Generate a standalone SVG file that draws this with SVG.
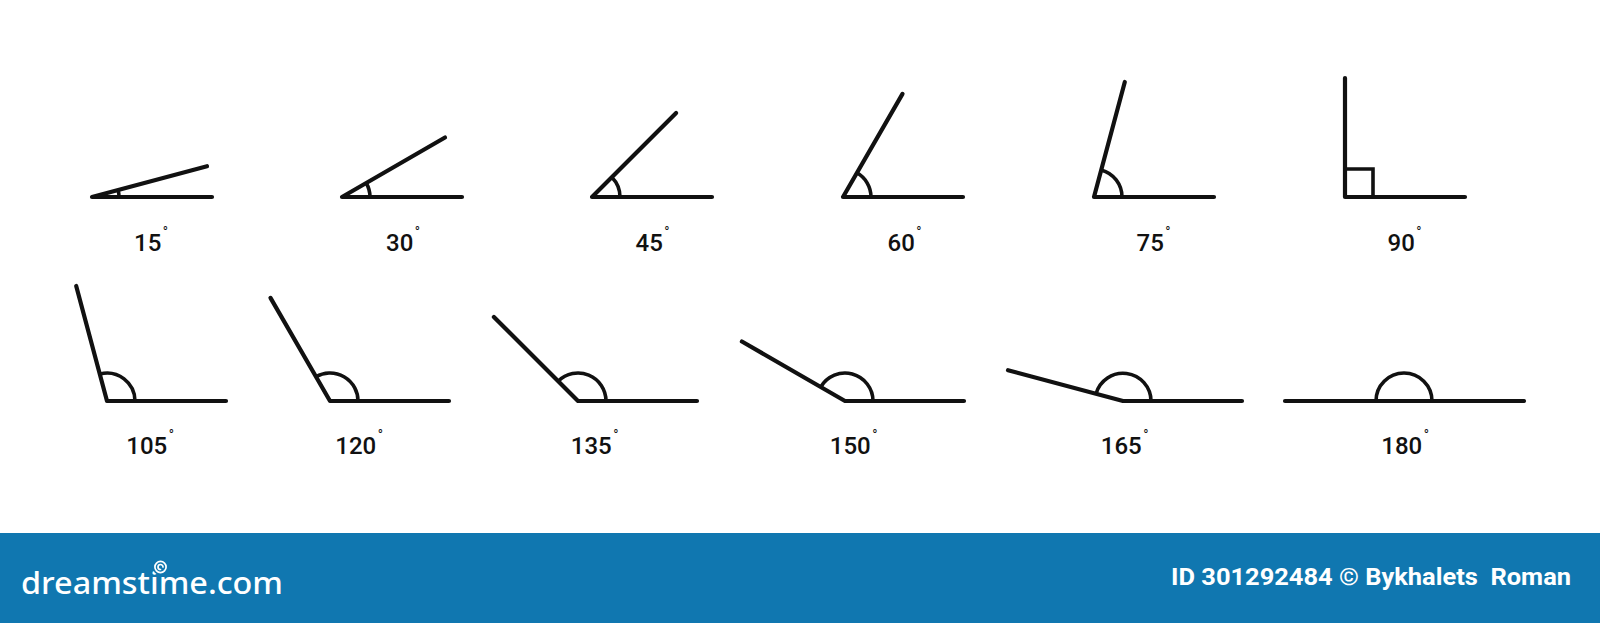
<svg xmlns="http://www.w3.org/2000/svg" width="1600" height="623" viewBox="0 0 1600 623">
<style>
.ln{fill:none;stroke:#111;stroke-width:4.2;stroke-linecap:round;stroke-linejoin:round}
.arc{fill:none;stroke:#111;stroke-width:3.6;stroke-linecap:butt}
.lbl{font-family:Roboto,"Liberation Sans",sans-serif;font-weight:500;font-size:24px;fill:#111}
.deg{font-size:14px;font-weight:400}
.ban{font-family:Roboto,"Liberation Sans",sans-serif;font-weight:700;font-size:24px;fill:#fff;white-space:pre}
.logo{font-family:"Noto Sans","Open Sans",sans-serif;font-weight:500;font-size:31px;fill:#fff}
</style>
<rect x="0" y="0" width="1600" height="623" fill="#fff"/>

<g id="a15">
<path class="ln" d="M212,197 H92 L207,166.2"/>
<path class="arc" d="M119,197 A27 27 0 0 0 118.1,190"/>
<text class="lbl" x="134" y="251">15<tspan class="deg" dx="1.5" dy="-14">°</tspan></text>
</g>
<g id="a30">
<path class="ln" d="M462,197 H342 L445,137.5"/>
<path class="arc" d="M370,197 A28 28 0 0 0 366.2,183"/>
<text class="lbl" x="386" y="251">30<tspan class="deg" dx="1.5" dy="-14">°</tspan></text>
</g>
<g id="a45">
<path class="ln" d="M712,197 H592 L676.1,112.9"/>
<path class="arc" d="M620,197 A28 28 0 0 0 611.8,177.2"/>
<text class="lbl" x="635.5" y="251">45<tspan class="deg" dx="1.5" dy="-14">°</tspan></text>
</g>
<g id="a60">
<path class="ln" d="M963,197 H843 L902.5,93.9"/>
<path class="arc" d="M871,197 A28 28 0 0 0 857,172.8"/>
<text class="lbl" x="887.5" y="251">60<tspan class="deg" dx="1.5" dy="-14">°</tspan></text>
</g>
<g id="a75">
<path class="ln" d="M1214,197 H1094 L1124.8,82"/>
<path class="arc" d="M1122,197 A28 28 0 0 0 1101.2,170"/>
<text class="lbl" x="1136.5" y="251">75<tspan class="deg" dx="1.5" dy="-14">°</tspan></text>
</g>
<g id="a90">
<path class="ln" d="M1465,197 H1345 V78"/>
<path class="arc" d="M1345,169 H1373 V197"/>
<text class="lbl" x="1387.5" y="251">90<tspan class="deg" dx="1.5" dy="-14">°</tspan></text>
</g>

<g id="a105">
<path class="ln" d="M226,401 H107 L76.2,286"/>
<path class="arc" d="M135,401 A28 28 0 0 0 99.8,374"/>
<text class="lbl" x="126.3" y="454">105<tspan class="deg" dx="1.5" dy="-14">°</tspan></text>
</g>
<g id="a120">
<path class="ln" d="M449,401 H330 L270.5,297.9"/>
<path class="arc" d="M358,401 A28 28 0 0 0 316,376.8"/>
<text class="lbl" x="335.3" y="454">120<tspan class="deg" dx="1.5" dy="-14">°</tspan></text>
</g>
<g id="a135">
<path class="ln" d="M697,401 H578 L493.9,316.9"/>
<path class="arc" d="M606,401 A28 28 0 0 0 558.2,381.2"/>
<text class="lbl" x="570.8" y="454">135<tspan class="deg" dx="1.5" dy="-14">°</tspan></text>
</g>
<g id="a150">
<path class="ln" d="M964,401 H845 L741.9,341.5"/>
<path class="arc" d="M873,401 A28 28 0 0 0 820.8,387"/>
<text class="lbl" x="829.8" y="454">150<tspan class="deg" dx="1.5" dy="-14">°</tspan></text>
</g>
<g id="a165">
<path class="ln" d="M1242,401 H1123 L1008,370.2"/>
<path class="arc" d="M1151,401 A28 28 0 0 0 1096,393.8"/>
<text class="lbl" x="1100.8" y="454">165<tspan class="deg" dx="1.5" dy="-14">°</tspan></text>
</g>
<g id="a180">
<path class="ln" d="M1285,401 H1524"/>
<path class="arc" d="M1432,401 A28 28 0 0 0 1376,401"/>
<text class="lbl" x="1381.3" y="454">180<tspan class="deg" dx="1.5" dy="-14">°</tspan></text>
</g>

<g id="connectors"/>

<g id="banner">
<rect x="0" y="533" width="1600" height="90" fill="#1077b0"/>
<text class="logo" x="21" y="594" textLength="262" lengthAdjust="spacingAndGlyphs">dreamstime.com</text>
<circle cx="160.5" cy="567" r="8" fill="#1077b0"/>
<circle cx="160.5" cy="567" r="5.6" fill="none" stroke="#fff" stroke-width="1.7"/>
<path d="M160.5,569.5 A2.5 2.5 0 1 1 163,567" fill="none" stroke="#fff" stroke-width="1.7" stroke-linecap="round"/>
<text class="ban" x="1171" y="585" textLength="400" lengthAdjust="spacingAndGlyphs" xml:space="preserve">ID 301292484 © Bykhalets  Roman</text>
</g>
</svg>
